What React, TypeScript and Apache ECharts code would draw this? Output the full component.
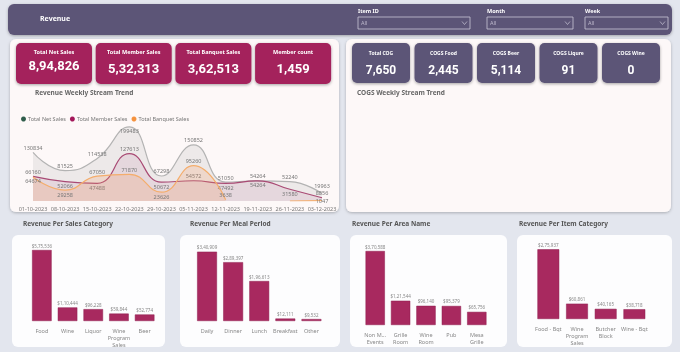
import React, { useEffect, useRef } from "react";
import * as echarts from "echarts";

const weeks = ["01-10-2023", "08-10-2023", "15-10-2023", "22-10-2023", "29-10-2023", "05-11-2023", "12-11-2023", "19-11-2023", "26-11-2023", "03-12-2023"];
const netSales = [130834, 81525, 114538, 199483, 67298, 150852, 51050, 54264, 52240, 19963];
const memberSales = [66160, 52066, 47488, 127613, 50672, 54572, 47492, 54264, 31580, 8856];
const banquetSales: (number | null)[] = [64674, 29258, 67050, 71870, 23626, 95260, 3638, null, 0, 1047];

const revenueKpiTitles = ["Total Net Sales", "Total Member Sales", "Total Banquet Sales", "Member count"];
const revenueKpiValues = [894826, 532313, 362513, 1459];
const cogsKpiTitles = ["Total COG", "COGS Food", "COGS Beer", "COGS Liqure", "COGS Wine"];
const cogsKpiValues = [7650, 2445, 5114, 91, 0];

const salesCategories = ["Food", "Wine", "Liquor", "Wine\nProgram\nSales", "Beer"];
const salesCategoryValues = [575536, 110444, 96228, 59844, 52774];
const mealPeriods = ["Daily", "Dinner", "Lunch", "Breakfast", "Other"];
const mealPeriodValues = [340909, 289397, 196613, 12111, 9532];
const areaNames = ["Non M...\nEvents", "Grille\nRoom", "Wine\nRoom", "Pub", "Mesa\nGrille"];
const areaNameValues = [370588, 121544, 96140, 95379, 65756];
const itemCategories = ["Food - Bqt", "Wine\nProgram\nSales", "Butcher\nBlock", "Wine - Bqt"];
const itemCategoryValues = [275937, 60861, 40165, 38718];

const filterLabels = ["Item ID", "Month", "Week"];
const bottomTitles = ["Revenue Per Sales Category", "Revenue Per Meal Period", "Revenue Per Area Name", "Revenue Per Item Category"];

function inr(n: number): string {
  const s = Math.round(n).toString();
  if (s.length <= 3) return s;
  const last3 = s.slice(-3);
  const rest = s.slice(0, -3).replace(/\B(?=(\d{2})+(?!\d))/g, ",");
  return rest + "," + last3;
}

const FONT = "'Noto Sans', 'Open Sans', sans-serif";
const NUMFONT = "Roboto, 'Noto Sans', sans-serif";
const RED = "#a4245b";
const PURPLE = "#5c5477";

export default function App() {
  const ref = useRef<HTMLDivElement>(null);
  useEffect(() => {
    if (!ref.current) return;
    const chart = echarts.init(ref.current, undefined, { renderer: "svg" });
    const graphic: any[] = [];
    graphic.push({ type: "rect", shape: { x: 0, y: 0, width: 680, height: 352 }, style: { fill: "#e3e6ee" }, z: -10 });
    graphic.push({ type: "rect", shape: { x: 8, y: 4, width: 664, height: 31, r: 6 }, style: { fill: PURPLE, shadowBlur: 3, shadowColor: "rgba(0,0,0,0.3)", shadowOffsetY: 1 }, z: -5 });
    graphic.push({ type: "text", x: 40, y: 18, style: { text: "Revenue", fill: "#fff", font: `bold 7px ${FONT}`, verticalAlign: "middle" }, z: -4 });
    const fx = [358, 487, 585];
    const fw = [112, 86, 83];
    filterLabels.forEach((l, i) => {
      graphic.push({ type: "text", x: fx[i], y: 11, style: { text: l, fill: "#fff", font: `bold 5.5px ${FONT}`, verticalAlign: "middle" }, z: -4 });
      graphic.push({ type: "rect", shape: { x: fx[i], y: 17, width: fw[i], height: 12 }, style: { fill: "transparent", stroke: "#c9c5d6", lineWidth: 0.8 }, z: -4 });
      graphic.push({ type: "text", x: fx[i] + 3, y: 23, style: { text: "All", fill: "#bdb8cc", font: `5.5px ${FONT}`, verticalAlign: "middle" }, z: -4 });
      graphic.push({ type: "polyline", shape: { points: [[fx[i] + fw[i] - 8, 21.5], [fx[i] + fw[i] - 5.5, 24.5], [fx[i] + fw[i] - 3, 21.5]] }, style: { stroke: "#c9c5d6", lineWidth: 0.7, fill: "none" }, z: -4 });
    });
    graphic.push({ type: "rect", shape: { x: 10, y: 39, width: 329, height: 173, r: 6 }, style: { fill: "#fdf8f8", shadowBlur: 3, shadowColor: "rgba(0,0,0,0.25)", shadowOffsetY: 1 }, z: -5 });
    graphic.push({ type: "rect", shape: { x: 346, y: 39, width: 325, height: 173, r: 6 }, style: { fill: "#fdf8f8", shadowBlur: 3, shadowColor: "rgba(0,0,0,0.25)", shadowOffsetY: 1 }, z: -5 });
    revenueKpiTitles.forEach((t, i) => {
      const x = 16 + i * 79.7;
      graphic.push({ type: "rect", shape: { x, y: 43, width: 76, height: 41, r: 5 }, style: { fill: RED, shadowBlur: 3, shadowColor: "rgba(0,0,0,0.35)", shadowOffsetY: 1 }, z: -3 });
      graphic.push({ type: "text", x: x + 38, y: 52, style: { text: t, fill: "#fff", font: `bold 5.5px ${FONT}`, align: "center", verticalAlign: "middle" }, z: -2 });
      graphic.push({ type: "text", x: x + 38, y: i === 0 ? 65 : 68, style: { text: inr(revenueKpiValues[i]), fill: "#fff", font: `bold 13px ${NUMFONT}`, align: "center", verticalAlign: "middle" }, z: -2 });
    });
    cogsKpiTitles.forEach((t, i) => {
      const x = 352 + i * 62.5;
      graphic.push({ type: "rect", shape: { x, y: 43, width: 58, height: 40, r: 5 }, style: { fill: PURPLE, shadowBlur: 3, shadowColor: "rgba(0,0,0,0.35)", shadowOffsetY: 1 }, z: -3 });
      graphic.push({ type: "text", x: x + 29, y: 53, style: { text: t, fill: "#fff", font: `bold 5px ${FONT}`, align: "center", verticalAlign: "middle" }, z: -2 });
      graphic.push({ type: "text", x: x + 29, y: 70, style: { text: inr(cogsKpiValues[i]), fill: "#fff", font: `bold 12px ${NUMFONT}`, align: "center", verticalAlign: "middle" }, z: -2 });
    });
    graphic.push({ type: "text", x: 35, y: 92, style: { text: "Revenue Weekly Stream Trend", fill: "#666", font: `bold 6.5px ${FONT}`, verticalAlign: "middle" }, z: -2 });
    graphic.push({ type: "text", x: 357, y: 92, style: { text: "COGS Weekly Stream Trend", fill: "#666", font: `bold 6.5px ${FONT}`, verticalAlign: "middle" }, z: -2 });
    const tx = [23, 190, 352, 519];
    bottomTitles.forEach((t, i) => {
      graphic.push({ type: "text", x: tx[i], y: 223, style: { text: t, fill: "#555", font: `bold 6.5px ${FONT}`, verticalAlign: "middle" }, z: -2 });
    });
    const cx = [12, 180, 350, 517];
    const cw = [153, 160, 157, 155];
    cx.forEach((x, i) => {
      graphic.push({ type: "rect", shape: { x, y: 235, width: cw[i], height: 112, r: 6 }, style: { fill: "#fdfdfe" }, z: -3 });
    });

    const barGrids = [
      { left: 29, width: 128.5, top: 250, height: 71 },
      { left: 194, width: 130.5, top: 251.7, height: 69.3 },
      { left: 362.5, width: 127, top: 251, height: 74 },
      { left: 534, width: 114.7, top: 249.3, height: 69.7 },
    ];
    const barCats = [salesCategories, mealPeriods, areaNames, itemCategories];
    const barVals = [salesCategoryValues, mealPeriodValues, areaNameValues, itemCategoryValues];

    const lbl = { show: true, fontSize: 5.5, color: "#777", fontFamily: FONT, distance: 1.5 };
    // label placement per point: [position, yOffset]
    const netPos: Record<number, [string, number]> = { 3: ["bottom", 0], 9: ["top", -3] };
    const memberPos: Record<number, [string, number]> = { 0: ["top", 0], 3: ["top", 0], 5: ["top", 0], 9: ["top", 0] };
    const banquetPos: Record<number, [string, number]> = { 2: ["top", 0], 3: ["top", 0], 5: ["top", 0], 6: ["top", 0], 9: ["top", 4.5] };
    const withPos = (arr: (number | null)[], pos: Record<number, [string, number]>, def: string) =>
      arr.map((v, i) => {
        const p = pos[i] || [def, 0];
        return {
          value: v,
          label: { position: p[0], offset: [0, p[1]], show: v !== null && v !== 0 },
        };
      });

    const lineCommon = { type: "line", xAxisIndex: 0, yAxisIndex: 0, smooth: 0.5, symbol: "circle", symbolSize: 0.01, showSymbol: true };

    const option: any = {
      animation: false,
      textStyle: { fontFamily: FONT },
      graphic,
      legend: {
        left: 16, top: 111, itemWidth: 5, itemHeight: 5, itemGap: 4, icon: "circle",
        textStyle: { fontSize: 5.5, color: "#777", padding: [0, 0, 0, -3] },
        data: ["Total Net Sales", "Total Member Sales", "Total Banquet Sales"],
      },
      grid: [{ left: 33, width: 289, top: 123, height: 78 }, ...barGrids],
      xAxis: [
        {
          gridIndex: 0, type: "category", data: weeks, boundaryGap: false,
          axisLine: { show: false }, axisTick: { show: false },
          axisLabel: { fontSize: 5.5, color: "#777", interval: 0, margin: 5 },
        },
        ...barCats.map((c, i) => ({
          gridIndex: i + 1, type: "category", data: c,
          axisLine: { show: false }, axisTick: { show: false },
          axisLabel: { fontSize: 5.5, color: "#888", interval: 0, margin: 6, lineHeight: 7 },
        })),
      ],
      yAxis: [
        { gridIndex: 0, type: "value", min: 0, max: 210000, show: false, splitLine: { show: false } },
        ...barCats.map((_, i) => ({ gridIndex: i + 1, type: "value", min: 0, max: "dataMax", show: false, splitLine: { show: false } })),
      ],
      series: [
        {
          ...lineCommon, name: "Total Net Sales", data: withPos(netSales, netPos, "top"),
          itemStyle: { color: "#2f5d4b" }, lineStyle: { color: "#b3b3b3", width: 1.2 },
          areaStyle: { color: "rgba(190,190,190,0.35)" }, label: lbl, z: 2,
        },
        {
          ...lineCommon, name: "Total Member Sales", data: withPos(memberSales, memberPos, "bottom"),
          itemStyle: { color: "#a3175a" }, lineStyle: { color: "#a94a74", width: 1.2 },
          areaStyle: { color: "rgba(170,80,130,0.16)" }, label: lbl, z: 3,
        },
        {
          ...lineCommon, name: "Total Banquet Sales", data: withPos(banquetSales, banquetPos, "bottom"),
          itemStyle: { color: "#f5923e" }, lineStyle: { color: "#f4ad6c", width: 1.2 },
          areaStyle: { color: "rgba(240,150,100,0.32)" }, label: lbl, z: 4,
        },
        ...barVals.map((v, i) => ({
          type: "bar", xAxisIndex: i + 1, yAxisIndex: i + 1, data: v, barWidth: "76%",
          itemStyle: { color: "#a8295f", borderColor: "#8e1d4e", borderWidth: 0.5 },
          label: { show: true, position: "top", distance: 2, fontSize: 4.5, color: "#888", formatter: (p: any) => "$" + inr(p.value) },
        })),
      ],
    };
    chart.setOption(option);
    return () => chart.dispose();
  }, []);
  return <div ref={ref} style={{ position: "fixed", left: 0, top: 0, width: 680, height: 352 }} />;
}
